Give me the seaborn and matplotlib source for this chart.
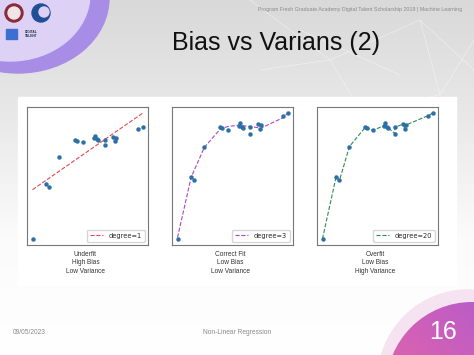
import numpy as np
import pandas as pd
import matplotlib
matplotlib.use("Agg")
import matplotlib.pyplot as plt
from matplotlib.patches import Ellipse, Circle, Rectangle
from matplotlib.colors import LinearSegmentedColormap
import seaborn as sns

# ---------------- data ----------------
x_vals = [0.0, 1.24, 1.54, 2.45, 3.90, 4.02, 4.62, 5.59, 5.68, 5.83, 5.98,
          6.58, 6.58, 7.34, 7.49, 7.55, 9.60, 10.0]
y_vals = [0.0, 4.95, 4.65, 7.35, 8.89, 8.80, 8.66, 9.00, 9.25, 8.92, 8.84,
          8.38, 8.89, 9.13, 8.73, 9.05, 9.81, 10.0]
deg1_x = [0.0, 10.0]
deg1_y = [4.4, 11.26]
deg3_fit = [0.1, 4.9, 5.5, 7.3, 8.75, 8.8, 8.95, 9.05, 9.05, 9.05, 9.0,
            8.95, 8.95, 8.85, 8.8, 8.8, 9.65, 10.0]
deg20_fit = [0.0, 4.95, 4.65, 7.35, 8.89, 8.80, 8.66, 9.00, 9.25, 8.92, 8.84,
             8.38, 8.89, 9.13, 8.73, 9.05, 9.81, 10.0]

legend_labels = ["degree=1", "degree=3", "degree=20"]
captions = ["Underfit\nHigh Bias\nLow Variance",
            "Correct Fit\nLow Bias\nLow Variance",
            "Overfit\nLow Bias\nHigh Variance"]
title = "Bias vs Varians (2)"
header = "Program Fresh Graduate Academy Digital Talent Scholarship 2019 | Machine Learning"
footer_date = "09/05/2023"
footer_topic = "Non-Linear Regression"
page_no = "16"

sns.set_style("white")
plt.rcParams["font.family"] = ["Liberation Sans", "DejaVu Sans"]

W, H = 474, 355
fig = plt.figure(figsize=(W / 100, H / 100), dpi=100)

# ---------------- slide background ----------------
bg = fig.add_axes([0, 0, 1, 1])
bg.set_xlim(0, W)
bg.set_ylim(H, 0)
bg.axis("off")
grad = np.linspace(0, 1, 200).reshape(-1, 1)
gcmap = LinearSegmentedColormap.from_list("g", ["#d9d9d9", "#e9e9e9", "#fbfbfb", "#ffffff"])
bg.imshow(grad, extent=[0, W, H, 0], cmap=gcmap, aspect="auto", zorder=0)

# faint network lines
net = [((250, 0), (330, 60)), ((330, 60), (420, 20)), ((420, 20), (474, 70)),
       ((330, 60), (360, 110)), ((420, 20), (440, 95)), ((300, 30), (400, 75)),
       ((440, 95), (474, 40)), ((360, 110), (440, 95)), ((260, 70), (330, 60))]
for (a, b) in net:
    bg.plot([a[0], b[0]], [a[1], b[1]], color="white", lw=0.4, alpha=0.6, zorder=1)

# top-left purple blob
bg.add_patch(Ellipse((18, -2), 182, 150, color="#a88de6", zorder=2))
bg.add_patch(Ellipse((10, -6), 160, 134, color="#ddd1f5", zorder=3))
bg.add_patch(Circle((14, 13), 9, color="#8a2a3a", zorder=4))
bg.add_patch(Circle((14, 13), 6, color="#f1e6e6", zorder=5))
bg.add_patch(Circle((41, 13), 9, color="#214f96", zorder=4))
bg.add_patch(Circle((44, 12), 5, color="#ddd1f5", zorder=5))
bg.add_patch(Rectangle((6, 29), 11, 10, color="#3b6fd0", zorder=4))
bg.text(25, 34, "DIGITAL\nTALENT", fontsize=2.3, color="#234", va="center",
        ha="left", fontweight="bold", zorder=6, linespacing=1.0)

# bottom-right circle
bg.add_patch(Circle((468, 380), 90, color="#f5e3f1", zorder=2))
circ = Circle((472, 388), 86, transform=bg.transData, facecolor="none", edgecolor="none", zorder=3)
bg.add_patch(circ)
cg = np.add.outer(np.linspace(0, 1, 100), np.linspace(1, 0, 100)) / 2
ccmap = LinearSegmentedColormap.from_list("c", ["#a35ad6", "#d060b8", "#ee6a9c"])
im = bg.imshow(cg, extent=[384, 560, 475, 300], cmap=ccmap, aspect="auto", zorder=3)
im.set_clip_path(circ)
bg.set_xlim(0, W)
bg.set_ylim(H, 0)

# texts
bg.text(462, 9, header, fontsize=3.8, color="#8a8a8a", ha="right", va="center", zorder=6)
bg.text(276, 43, title, fontsize=18, color="#111111", ha="center", va="center", zorder=6)
bg.text(13, 333, footer_date, fontsize=4.8, color="#8a8a8a", ha="left", va="center", zorder=6)
bg.text(237, 333, footer_topic, fontsize=4.8, color="#8a8a8a", ha="center", va="center", zorder=6)
bg.text(443, 332, page_no, fontsize=18, color="white", ha="center", va="center", zorder=6)

# white chart area
bg.add_patch(Rectangle((18, 97), 438, 188, color="white", zorder=1.5))

# ---------------- the three panels ----------------
panels = [(27, 107), (172, 107), (317, 107)]
pw, ph = 121, 138
line_colors = ["#e04a52", "#b043c4", "#2f8a55"]
point_color = "#2b6fa6"

for i, (px, py) in enumerate(panels):
    ax = fig.add_axes([px / W, 1 - (py + ph) / H, pw / W, ph / H])
    ax.set_zorder(5)
    sns.scatterplot(x=x_vals, y=y_vals, ax=ax, color=point_color, s=8,
                    edgecolor=point_color, linewidth=0.3, zorder=3)
    if i == 0:
        sns.lineplot(x=deg1_x, y=deg1_y, ax=ax, color=line_colors[i], lw=0.8,
                     linestyle="--", label=legend_labels[i], estimator=None, zorder=2)
    elif i == 1:
        sns.lineplot(x=x_vals, y=deg3_fit, ax=ax, color=line_colors[i], lw=0.8,
                     linestyle="--", label=legend_labels[i], estimator=None, sort=False, zorder=2)
    else:
        sns.lineplot(x=x_vals, y=deg20_fit, ax=ax, color=line_colors[i], lw=0.8,
                     linestyle="--", label=legend_labels[i], estimator=None, sort=False, zorder=2)
    ax.set_xticks([])
    ax.set_yticks([])
    ax.set_xlabel("")
    ax.set_ylabel("")
    for sp in ax.spines.values():
        sp.set_color("#777777")
        sp.set_linewidth(0.8)
    leg = ax.legend(loc="lower right", fontsize=4.8, frameon=True, handlelength=2.0,
                    borderpad=0.45, edgecolor="#cccccc", fancybox=True)
    for t in leg.get_texts():
        t.set_family(["DejaVu Sans"])
    bg.text(px + pw / 2 - 2, 263, captions[i], fontsize=4.7,
            color="#333333", ha="center", va="center", linespacing=1.3, zorder=6)

fig.savefig("out.png", dpi=100)
